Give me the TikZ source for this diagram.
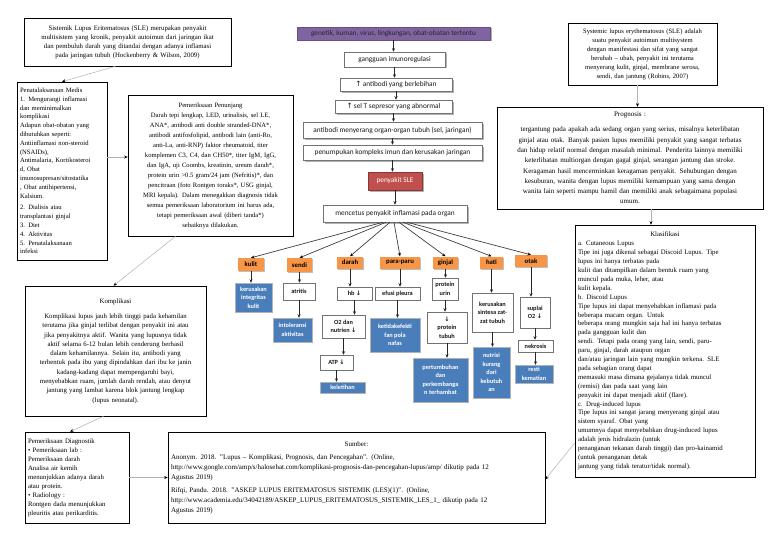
\documentclass[tikz,border=0pt]{standalone}
\usepackage{fontspec}
\setmainfont{Liberation Serif}
\newfontfamily\calfont{Carlito}
\newfontfamily\arwfont{DejaVu Sans}
\usetikzlibrary{arrows.meta,shadows,calc}
\definecolor{purp}{HTML}{8064A2}
\definecolor{redb}{HTML}{C0504D}
\definecolor{orab}{HTML}{F79646}
\definecolor{blub}{HTML}{4A7EBB}
\newcommand{\myup}{{\arwfont\char"2191}}
\newcommand{\mydn}{{\arwfont\char"2193}}
\tikzset{
  tbox/.style={draw=black, line width=0.6pt, fill=white, inner sep=3pt,
    font=\fontsize{6.8}{9}\selectfont,
    general shadow={fill=black!30, shadow xshift=1pt, shadow yshift=-1pt}},
  cbox/.style={draw=black!55, line width=0.5pt, fill=white, inner sep=1pt, text=black!90,
    font=\calfont\fontsize{7.3}{8}\selectfont, align=center,
    general shadow={fill=black!30, shadow xshift=1.5pt, shadow yshift=-1.5pt}},
  obox/.style={fill=orab, draw=none, inner sep=1pt, text=black,
    font=\calfont\bfseries\fontsize{6.8}{8}\selectfont, align=center,
    general shadow={fill=black!25, shadow xshift=1.2pt, shadow yshift=-1.2pt}},
  bbox/.style={fill=blub, draw=black!30, inner sep=1pt, text=white,
    font=\calfont\bfseries\fontsize{6.3}{8.4}\selectfont, align=center,
    general shadow={fill=black!25, shadow xshift=1.2pt, shadow yshift=-1.2pt}},
  wbox/.style={draw=black!55, line width=0.5pt, fill=white, inner sep=1pt, text=black!90,
    font=\calfont\bfseries\fontsize{6.3}{8.4}\selectfont, align=center,
    general shadow={fill=black!25, shadow xshift=1.2pt, shadow yshift=-1.2pt}},
  garr/.style={draw=black!30, line width=0.5pt, -{Stealth[length=3.5pt,width=3pt,color=black]}},
  darr/.style={draw=black!85, line width=0.7pt, -{Stealth[length=3.5pt,width=3pt]}},
  farr/.style={draw=black!75, line width=0.7pt, -{Stealth[length=3.5pt,width=3pt,color=black]}},
}
\begin{document}
\begin{tikzpicture}[x=1pt,y=-1pt]
\fill[white] (0,0) rectangle (768,543);
\useasboundingbox (0,0) rectangle (768,543);

% ---------- text boxes ----------
\node[tbox, minimum width=207pt, minimum height=48pt, text width=201pt, align=center] (tl) at (127.5,42)
 {Sistemik Lupus Eritematosus (SLE) merupakan penyakit\\
  multisistem yang kronik, penyakit autoimun dari jaringan ikat\\
  dan pembuluh darah yang ditandai dengan adanya inflamasi\\
  pada jaringan tubuh (Hockenberry \& Wilson, 2009)};

\node[tbox, minimum width=90pt, minimum height=178pt, text width=84pt, align=left, font=\fontsize{6.6}{8.8}\selectfont] (medis) at (62,171)
 {Penatalaksanaan Medis\\
  1. Mengurangi inflamasi\\
  dan meminimalkan\\
  komplikasi\\
  Adapun obat-obatan yang\\
  dibutuhkan seperti:\\
  Antiinflamasi non-steroid\\
  (NSAIDs),\\
  Antimalaria, Kortikosteroi\\
  d, Obat\\
  imunosupresan/sitostatika\\
  , Obat antihipertensi,\\
  Kalsium.\\[3pt]
  2. Dialisis atau\\
  transplantasi ginjal\\
  3. Diet\\
  4. Aktivitas\\
  5. Penatalaksanaan\\
  infeksi};

\node[tbox, minimum width=165pt, minimum height=141pt, text width=159pt, align=center, font=\fontsize{6.6}{10}\selectfont] (penunjang) at (210.5,165.5)
 {Pemeriksaan Penunjang\\
  Darah tepi lengkap, LED, urinalisis, sel LE,\\
  ANA*, antibodi anti double stranded-DNA*,\\
  antibodi antifosfolipid, antibodi lain (anti-Ro,\\
  anti-La, anti-RNP) faktor rheumatoid, titer\\
  komplemen C3, C4, dan CH50*, titer IgM, IgG,\\
  dan IgA, uji Coombs, kreatinin, ureum darah*,\\
  protein urin >0.5 gram/24 jam (Nefritis)*, dan\\
  pencitraan (foto Rontgen toraks*, USG ginjal,\\
  MRI kepala). Dalam menegakkan diagnosis tidak\\
  semua pemeriksaan laboratorium ini harus ada,\\
  tetapi pemeriksaan awal (diberi tanda*)\\
  sebaiknya dilakukan.};

\node[tbox, minimum width=181pt, minimum height=130pt, text width=175pt, align=center, font=\fontsize{6.8}{9.3}\selectfont] (kompl) at (115.5,351)
 {Komplikasi\\[6pt]
  Komplikasi lupus jauh lebih tinggi pada kehamilan\\
  terutama jika ginjal terlibat dengan penyakit ini atau\\
  jika penyakitnya aktif. Wanita yang lupusnya tidak\\
  aktif selama 6-12 bulan lebih cenderung berhasil\\
  dalam kehamilannya. Selain itu, antibodi yang\\
  terbentuk pada ibu yang dipindahkan dari ibu ke janin\\
  kadang-kadang dapat mempengaruhi bayi,\\
  menyebabkan ruam, jumlah darah rendah, atau denyut\\
  jantung yang lambat karena blok jantung lengkap\\
  (lupus neonatal).};

\node[tbox, minimum width=104pt, minimum height=91pt, text width=98pt, align=left, font=\fontsize{6.8}{9}\selectfont] (diag) at (77,477.5)
 {Pemeriksaan Diagnostik\\
  \textbullet\ Pemeriksaan lab :\\
  Pemeriksaan darah\\
  Analisa air kemih\\
  menunjukkan adanya darah\\
  atau protein.\\
  \textbullet\ Radiology :\\
  Rontgen dada menunjukkan\\
  pleuritis atau perikarditis.};

\node[tbox, minimum width=377pt, minimum height=91pt, text width=371pt, align=left, font=\fontsize{7}{10}\selectfont] (sumber) at (356.5,477.5)
 {\hfill Sumber:\hfill\null\\[3pt]
  Anonym. 2018. "Lupus -- Komplikasi, Prognosis, dan Pencegahan". (Online,\\
  http://www.google.com/amp/s/halosehat.com/komplikasi-prognosis-dan-pencegahan-lupus/amp/ dikutip pada 12\\
  Agustus 2019)\\[3pt]
  Rifqi, Pandu. 2018. "ASKEP LUPUS ERITEMATOSUS SISTEMIK (LES)(1)". (Online,\\
  http://www.academia.edu/34042189/ASKEP\_LUPUS\_ERITEMATOSUS\_SISTEMIK\_LES\_1\_ dikutip pada 12\\
  Agustus 2019)};

\node[tbox, minimum width=149pt, minimum height=62pt, text width=143pt, align=center, font=\fontsize{6.6}{9}\selectfont] (tr) at (642.5,54)
 {Systemic lupus erythematosus (SLE) adalah\\
  suatu penyakit autoimun multisystem\\
  dengan manifestasi dan sifat yang sangat\\
  berubah -- ubah, penyakit ini terutama\\
  menyerang kulit, ginjal, membrane serosa,\\
  sendi, dan jantung (Robins, 2007)};

\node[tbox, minimum width=266pt, minimum height=102pt, text width=260pt, align=center, font=\fontsize{7}{10.3}\selectfont] (prog) at (630,158)
 {Prognosis :\\[5pt]
  tergantung pada apakah ada sedang organ yang serius, misalnya keterlibatan\\
  ginjal atau otak. Banyak pasien lupus memiliki penyakit yang sangat terbatas\\
  dan hidup relatif normal dengan masalah minimal. Penderita lainnya memiliki\\
  keterlibatan multiorgan dengan gagal ginjal, serangan jantung dan stroke.\\
  Keragaman hasil mencerminkan keragaman penyakit. Sehubungan dengan\\
  kesuburan, wanita dengan lupus memiliki kemampuan yang sama dengan\\
  wanita lain seperti mampu hamil dan memiliki anak sebagaimana populasi\\
  umum.};

\node[tbox, minimum width=180pt, minimum height=252pt, text width=174pt, align=left, font=\fontsize{6.8}{8.9}\selectfont] (klas) at (665,351)
 {\hfill Klasifikasi\hfill\null\\
  a. Cutaneous Lupus\\
  Tipe ini juga dikenal sebagai Discoid Lupus. Tipe\\
  lupus ini hanya terbatas pada\\
  kulit dan ditampilkan dalam bentuk ruam yang\\
  muncul pada muka, leher, atau\\
  kulit kepala.\\
  b. Discoid Lupus\\
  Tipe lupus ini dapat menyebabkan inflamasi pada\\
  beberapa macam organ. Untuk\\
  beberapa orang mungkin saja hal ini hanya terbatas\\
  pada gangguan kulit dan\\
  sendi. Tetapi pada orang yang lain, sendi, paru-\\
  paru, ginjal, darah ataupun organ\\
  dan/atau jaringan lain yang mungkin terkena. SLE\\
  pada sebagian orang dapat\\
  memasuki masa dimana gejalanya tidak muncul\\
  (remisi) dan pada saat yang lain\\
  penyakit ini dapat menjadi aktif (flare).\\
  c. Drug-induced lupus\\
  Tipe lupus ini sangat jarang menyerang ginjal atau\\
  sistem syaraf. Obat yang\\
  umumnya dapat menyebabkan drug-induced lupus\\
  adalah jenis hidralazin (untuk\\
  penanganan tekanan darah tinggi) dan pro-kainamid\\
  (untuk penanganan detak\\
  jantung yang tidak teratur/tidak normal).};

% ---------- central chain ----------
\node[cbox, fill=purp, draw=purp!80!black, text=black!85, minimum width=193pt, minimum height=13pt] (c0) at (393.5,33.5) {genetik, kuman, virus, lingkungan, obat-obatan tertentu};
\node[cbox, minimum width=101pt, minimum height=15pt] (c1) at (394.5,59.5) {gangguan imunoregulasi};
\node[cbox, minimum width=112pt, minimum height=13pt] (c2) at (396,84.5) {\myup\,antibodi yang berlebihan};
\node[cbox, minimum width=117pt, minimum height=13pt] (c3) at (393.5,106.5) {\myup\,sel T sepresor yang abnormal};
\node[cbox, minimum width=179pt, minimum height=16pt] (c4) at (392.5,130) {antibodi menyerang organ-organ tubuh (sel, jaringan)};
\node[cbox, minimum width=179pt, minimum height=15pt] (c5) at (392.5,152.5) {penumpukan kompleks imun dan kerusakan jaringan};
\node[cbox, fill=redb, draw=redb!70!black, text=white, minimum width=54pt, minimum height=18pt] (c6) at (395,181) {penyakit SLE};
\node[cbox, minimum width=144pt, minimum height=17pt] (c7) at (395,213.5) {mencetus penyakit inflamasi pada organ};

\foreach \a/\b in {c0/c1,c1/c2,c2/c3,c3/c4,c4/c5,c5/c6,c6/c7}
  \draw[darr] (\a.south) -- (\a.south |- \b.north);

% ---------- organs ----------
\node[obox, minimum width=26pt, minimum height=13pt] (kulit) at (251,264.5) {kulit};
\node[obox, minimum width=25pt, minimum height=14pt] (sendi) at (299.5,265) {sendi};
\node[obox, minimum width=26pt, minimum height=12pt] (darah) at (350,262.5) {darah};
\node[obox, minimum width=40pt, minimum height=12pt] (paru) at (400,262.5) {para-paru};
\node[obox, minimum width=25pt, minimum height=12pt] (ginjal) at (445.5,262.5) {ginjal};
\node[obox, minimum width=23pt, minimum height=12pt] (hati) at (491.5,262.5) {hati};
\node[obox, minimum width=32pt, minimum height=12pt] (otak) at (531,261) {otak};

\draw[farr] ([xshift=-12pt]c7.south) -- (kulit.north);
\draw[farr] ([xshift=-9pt]c7.south) -- (sendi.north);
\draw[farr] ([xshift=-5pt]c7.south) -- (darah.north);
\draw[farr] ([xshift=-1pt]c7.south) -- (paru.north);
\draw[farr] ([xshift=4pt]c7.south) -- (ginjal.north);
\draw[farr] ([xshift=8pt]c7.south) -- (hati.north);
\draw[farr] ([xshift=12pt]c7.south) -- (otak.north);

% kulit
\node[bbox, minimum width=37pt, minimum height=29pt] (kb) at (253.5,297.5) {kerusakan\\integritas\\kulit};
% sendi
\node[wbox, minimum width=32pt, minimum height=17pt] (s1) at (299,291.5) {atritis};
\node[bbox, minimum width=39pt, minimum height=24pt] (s2) at (292.5,330) {intoleransi\\aktivitas};
% darah
\node[wbox, minimum width=35pt, minimum height=13pt] (d1) at (354.5,293.5) {hb \mydn};
\node[wbox, minimum width=43pt, minimum height=23pt] (d2) at (343.5,326.5) {O2 dan\\nutrien \mydn};
\node[wbox, minimum width=33pt, minimum height=15pt] (d3) at (336.5,362.5) {ATP \mydn};
\node[bbox, minimum width=45pt, minimum height=11pt] (d4) at (342.5,387.5) {keletihan};
% para-paru
\node[wbox, minimum width=45pt, minimum height=13pt] (p1) at (397.5,293.5) {efusi pleura};
\node[bbox, minimum width=50pt, minimum height=34pt] (p2) at (395,335) {ketidakefekti\\fan pola\\nafas};
% ginjal
\node[wbox, minimum width=26pt, minimum height=22pt] (g1) at (445,289) {protein\\urin};
\node[wbox, minimum width=40pt, minimum height=31pt] (g2) at (447,327.5) {\mydn\\protein\\tubuh};
\node[bbox, minimum width=55pt, minimum height=44pt] (g3) at (440.5,380) {pertumbuhan\\dan\\perkembanga\\n terhambat};
% hati
\node[wbox, minimum width=41pt, minimum height=39pt] (h1) at (492.5,312.5) {kerusakan\\sintesa zat-\\zat tubuh};
\node[bbox, minimum width=37pt, minimum height=51pt] (h2) at (491.5,372.5) {nutrisi\\kurang\\dari\\kebutuh\\an};
% otak
\node[wbox, minimum width=30pt, minimum height=31pt] (o1) at (535,312.5) {suplai\\O2 \mydn};
\node[wbox, minimum width=35pt, minimum height=12pt] (o2) at (535.5,346) {nekrosis};
\node[bbox, minimum width=38pt, minimum height=18pt] (o3) at (534,374) {resti\\kematian};

\foreach \a/\b in {kulit/kb,sendi/s1,s1/s2,darah/d1,d1/d2,d2/d3,d3/d4,paru/p1,p1/p2,ginjal/g1,g1/g2,g2/g3,hati/h1,h1/h2,otak/o1,o1/o2,o2/o3}
  \draw[darr] (\a.south) -- (\a.south |- \b.north);

% ---------- grey connectors between text boxes ----------
\draw[garr] ([xshift=-12pt]tl.south) -- (medis.north);
\draw[garr] ([yshift=14pt]medis.east) -- ([yshift=14pt]medis.east -| penunjang.west);
\draw[garr] ([xshift=-35pt]penunjang.south) -- ([xshift=-2pt]kompl.north);
\draw[garr] ([xshift=-12pt]kompl.south) -- ([xshift=-7pt]diag.north);
\draw[garr] (diag.east) -- (sumber.west);
\draw[garr] ([xshift=-5pt]tr.south) -- ([xshift=-5pt]tr.south |- prog.north);
\draw[garr] ([xshift=21pt]prog.south) -- ([xshift=21pt]prog.south |- klas.north);
\draw[garr] ([yshift=-92pt]klas.west) -- ([yshift=-2pt]sumber.east);
\end{tikzpicture}
\end{document}
